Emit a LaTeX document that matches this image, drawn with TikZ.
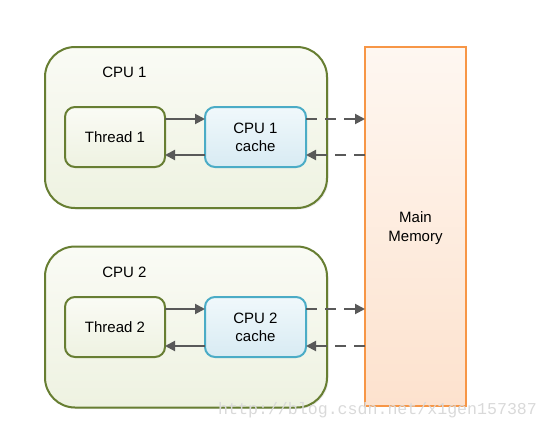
\documentclass[tikz,border=0pt]{standalone}
\usepackage{fontspec}
\setmainfont{Liberation Sans}
\newfontfamily\wmfont{Liberation Mono}
\usetikzlibrary{arrows.meta,shadows}
\definecolor{olive}{HTML}{677E32}
\definecolor{cpufillA}{HTML}{FAFBF5}
\definecolor{cpufillB}{HTML}{EEF2E1}
\definecolor{cacheline}{HTML}{4BACC6}
\definecolor{cachefillA}{HTML}{F0F8FB}
\definecolor{cachefillB}{HTML}{D8EBF3}
\definecolor{memline}{HTML}{F79646}
\definecolor{memfillA}{HTML}{FEF7F1}
\definecolor{memfillB}{HTML}{FDE2CE}
\definecolor{arrowgray}{HTML}{595959}
\tikzset{
  cpubox/.style={draw=olive, line width=2pt, rounded corners=30pt, top color=cpufillA, bottom color=cpufillB,
    minimum width=282pt, minimum height=161pt, inner sep=0pt, drop shadow={shadow xshift=1.5pt, shadow yshift=-1.5pt, opacity=0.15}},
  threadbox/.style={draw=olive, line width=2pt, rounded corners=10pt, top color=cpufillA, bottom color=cpufillB,
    minimum width=100pt, minimum height=60pt, inner sep=0pt, font=\fontsize{15}{18}\selectfont, align=center},
  cachebox/.style={draw=cacheline, line width=2pt, rounded corners=10pt, top color=cachefillA, bottom color=cachefillB,
    minimum width=101pt, minimum height=60pt, inner sep=0pt, font=\fontsize{15}{18}\selectfont, align=center},
  membox/.style={draw=memline, line width=2pt, top color=memfillA, bottom color=memfillB,
    minimum width=101pt, minimum height=359pt, inner sep=0pt},
  memlabel/.style={font=\fontsize{15}{19}\selectfont, align=center, inner sep=0pt},
  cpulabel/.style={font=\fontsize{15}{18}\selectfont, inner sep=0pt},
  solidarrow/.style={draw=arrowgray, line width=2pt, -{Triangle[length=10pt,width=10pt]}},
  dasharrow/.style={draw=arrowgray, line width=2pt, dash pattern=on 11pt off 8pt, -{Triangle[length=10pt,width=10pt]}},
  watermark/.style={font=\wmfont\fontsize{16.6}{18}\selectfont, text=black!15, inner sep=0pt, anchor=base west}
}
\begin{document}
\begin{tikzpicture}[x=1pt,y=-1pt]
\useasboundingbox (0,0) rectangle (550,429);
% CPU containers
\node[cpubox] (cpu1) at (186,127.5) {};
\node[cpubox] (cpu2) at (186,327) {};
\node[cpulabel] (cpu1lbl) at (124.5,72.5) {CPU 1};
\node[cpulabel] (cpu2lbl) at (124.5,272) {CPU 2};
% inner boxes
\node[threadbox] (t1) at (115,137) {Thread 1};
\node[cachebox] (c1) at (255.5,137) {CPU 1\\cache};
\node[threadbox] (t2) at (115,327) {Thread 2};
\node[cachebox] (c2) at (255.5,327) {CPU 2\\cache};
% main memory
\node[membox] (mem) at (415.5,226.5) {};
\node[memlabel] (memlbl) at (415.5,228.5) {Main\\Memory};
% coordinates for arrows
\coordinate (t1a) at (165,119); \coordinate (c1a) at (205,119);
\coordinate (t1b) at (165,155); \coordinate (c1b) at (205,155);
\coordinate (c1c) at (306,119); \coordinate (m1c) at (365,119);
\coordinate (c1d) at (306,155); \coordinate (m1d) at (365,155);
\coordinate (t2a) at (165,309); \coordinate (c2a) at (205,309);
\coordinate (t2b) at (165,346); \coordinate (c2b) at (205,346);
\coordinate (c2c) at (306,309); \coordinate (m2c) at (365,309);
\coordinate (c2d) at (306,346); \coordinate (m2d) at (365,346);
\draw[solidarrow] (t1a) -- (c1a);
\draw[solidarrow] (c1b) -- (t1b);
\draw[dasharrow] (c1c) -- (m1c);
\draw[dasharrow] (m1d) -- (c1d);
\draw[solidarrow] (t2a) -- (c2a);
\draw[solidarrow] (c2b) -- (t2b);
\draw[dasharrow] (c2c) -- (m2c);
\draw[dasharrow] (m2d) -- (c2d);
% watermark
\node[watermark] (wm) at (218,414) {http://blog.csdn.net/x1gen157387};
\end{tikzpicture}
\end{document}
